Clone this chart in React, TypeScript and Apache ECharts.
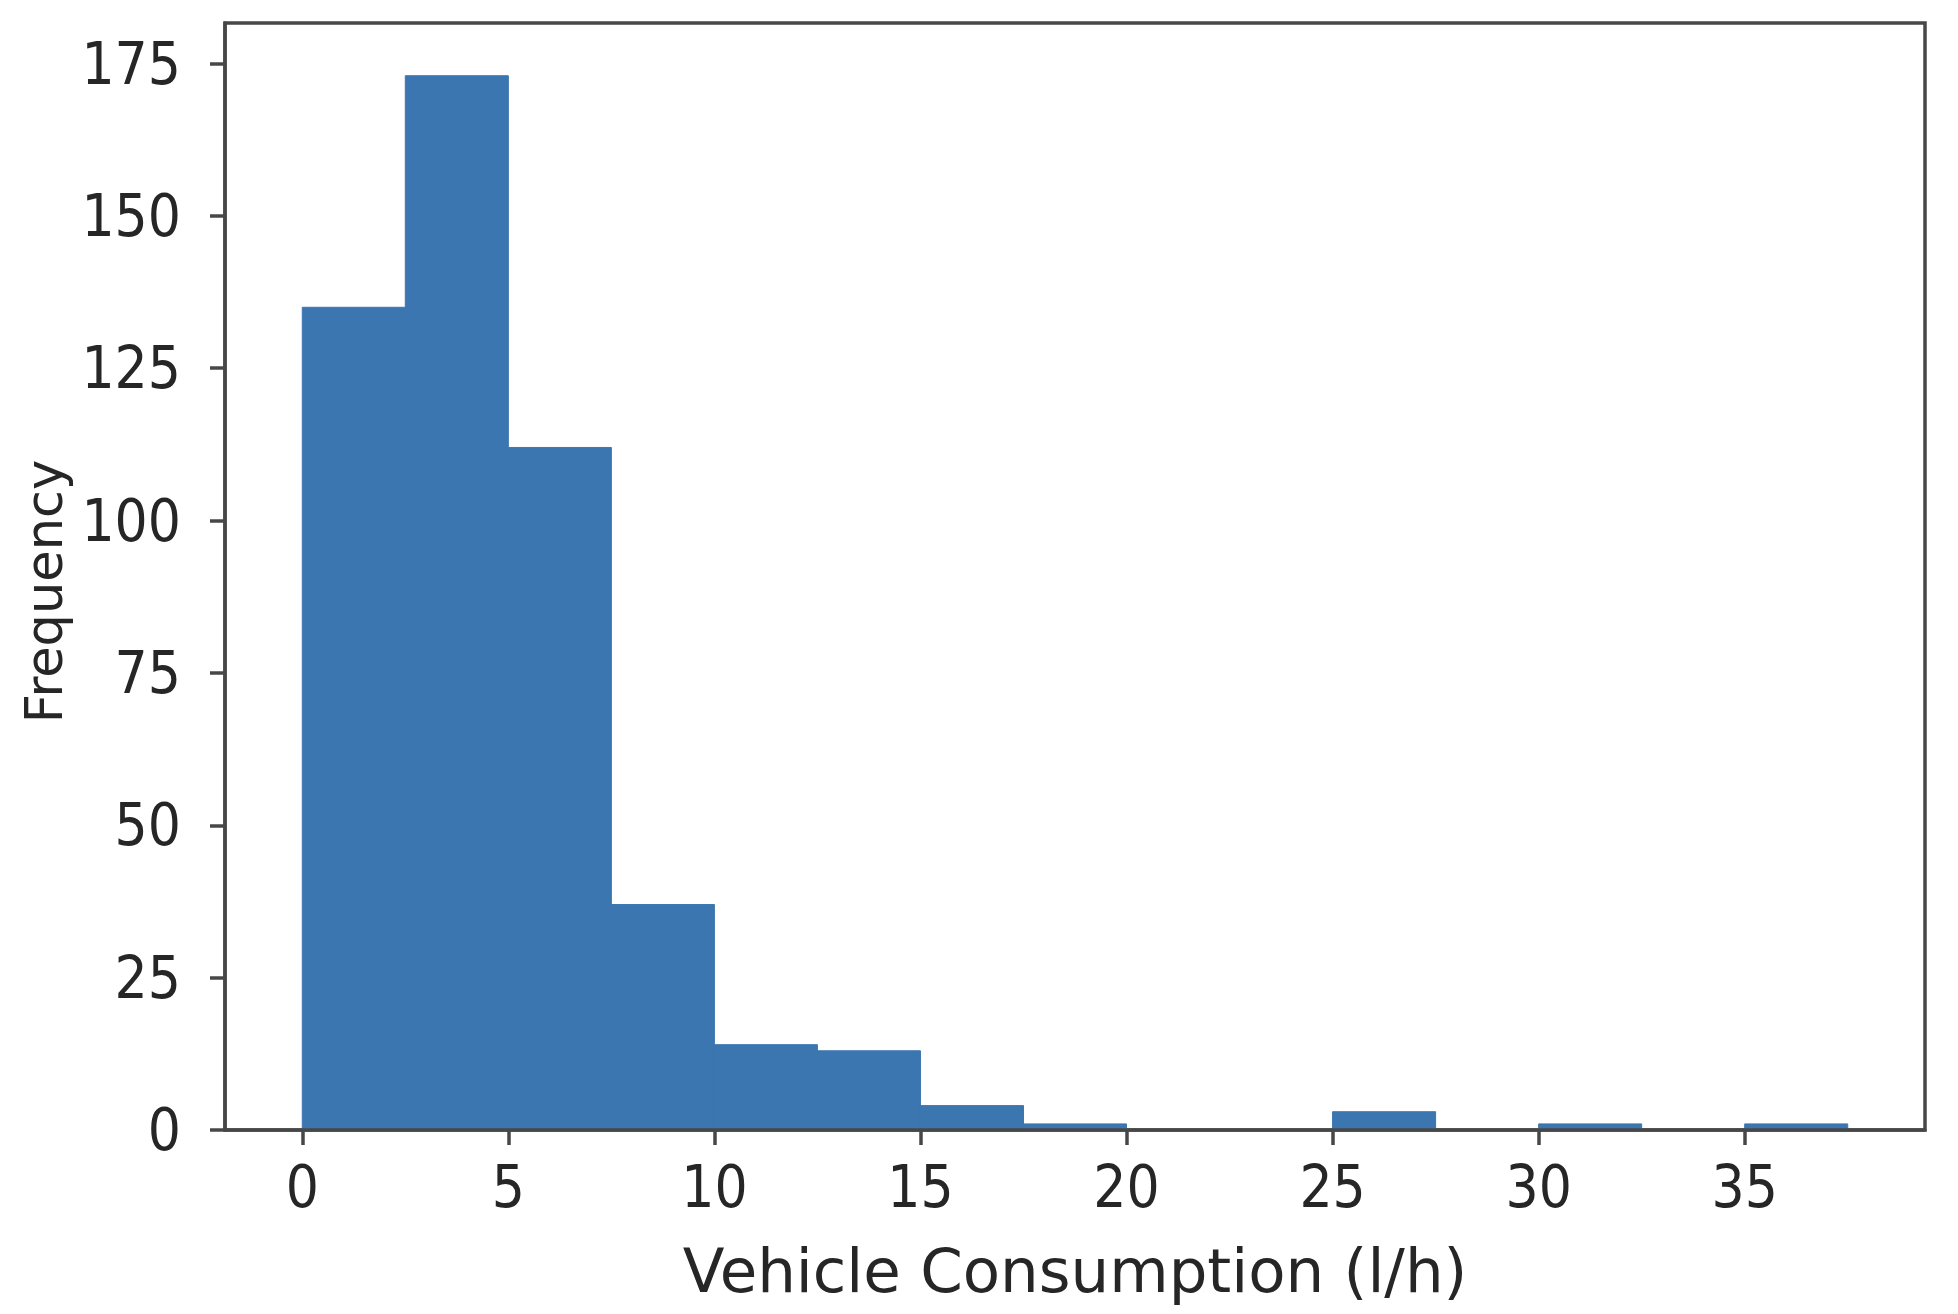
import React, { useEffect, useRef } from "react";
import * as echarts from "echarts";

const binEdges = [0, 2.5, 5, 7.5, 10, 12.5, 15, 17.5, 20, 22.5, 25, 27.5, 30, 32.5, 35, 37.5];
const counts = [135, 173, 112, 37, 14, 13, 4, 1, 0, 0, 3, 0, 1, 0, 1];
const xTicks = [0, 5, 10, 15, 20, 25, 30, 35];
const yTicks = [0, 25, 50, 75, 100, 125, 150, 175];
const xLabel = "Vehicle Consumption (l/h)";
const yLabel = "Frequency";

const BAR_COLOR = "#3c76b0";
const LINE_COLOR = "#474747";
const TEXT_COLOR = "#262626";
const TICK_FONT = "'Liberation Sans Narrow', 'DejaVu Sans Condensed', 'DejaVu Sans', sans-serif";
const LABEL_FONT = "'DejaVu Sans', sans-serif";

export default function App() {
  const ref = useRef<HTMLDivElement>(null);

  useEffect(() => {
    if (!ref.current) return;
    const chart = echarts.init(ref.current, undefined, { renderer: "svg" });
    const data = counts.map((c, i) => [binEdges[i], binEdges[i + 1], c]);

    chart.setOption({
      animation: false,
      backgroundColor: "#ffffff",
      grid: {
        left: 225,
        right: 33,
        top: 23,
        bottom: 184,
        show: true,
        borderColor: LINE_COLOR,
        borderWidth: 3.5,
        backgroundColor: "transparent",
      },
      xAxis: {
        type: "value",
        min: -1.875,
        max: 39.375,
        z: 5,
        splitLine: { show: false },
        axisLine: { show: true, onZero: false, lineStyle: { color: LINE_COLOR, width: 3.5 } },
        axisTick: {
          show: true,
          inside: false,
          length: 15,
          customValues: xTicks,
          lineStyle: { color: LINE_COLOR, width: 3.5 },
        },
        axisLabel: {
          customValues: xTicks,
          margin: 28,
          fontSize: 58,
          fontFamily: TICK_FONT,
          color: TEXT_COLOR,
        },
        name: xLabel,
        nameLocation: "middle",
        nameGap: 110,
        nameTextStyle: { fontSize: 61, fontFamily: LABEL_FONT, color: TEXT_COLOR },
      },
      yAxis: {
        type: "value",
        min: 0,
        max: 181.65,
        z: 5,
        splitLine: { show: false },
        axisLine: { show: true, onZero: false, lineStyle: { color: LINE_COLOR, width: 3.5 } },
        axisTick: {
          show: true,
          inside: false,
          length: 15,
          customValues: yTicks,
          lineStyle: { color: LINE_COLOR, width: 3.5 },
        },
        axisLabel: {
          customValues: yTicks,
          margin: 44,
          fontSize: 58,
          fontFamily: TICK_FONT,
          color: TEXT_COLOR,
        },
        name: yLabel,
        nameLocation: "middle",
        nameGap: 155,
        nameTextStyle: {
          fontSize: 51,
          fontFamily: LABEL_FONT,
          color: TEXT_COLOR,
          padding: [0, 30, 0, 0],
        },
      },
      series: [
        {
          type: "custom",
          data,
          encode: { x: [0, 1], y: 2 },
          renderItem: (params: any, api: any) => {
            if (!api.value(2)) return null;
            const p0 = api.coord([api.value(0), 0]);
            const p1 = api.coord([api.value(1), api.value(2)]);
            return {
              type: "rect",
              shape: {
                x: p0[0],
                y: p1[1],
                width: p1[0] - p0[0],
                height: p0[1] - p1[1],
              },
              style: { fill: BAR_COLOR, stroke: BAR_COLOR, lineWidth: 1 },
            };
          },
        },
      ],
    });

    return () => chart.dispose();
  }, []);

  return (
    <div
      ref={ref}
      style={{ position: "absolute", left: 0, top: 0, width: 1958, height: 1314, background: "#fff" }}
    />
  );
}
